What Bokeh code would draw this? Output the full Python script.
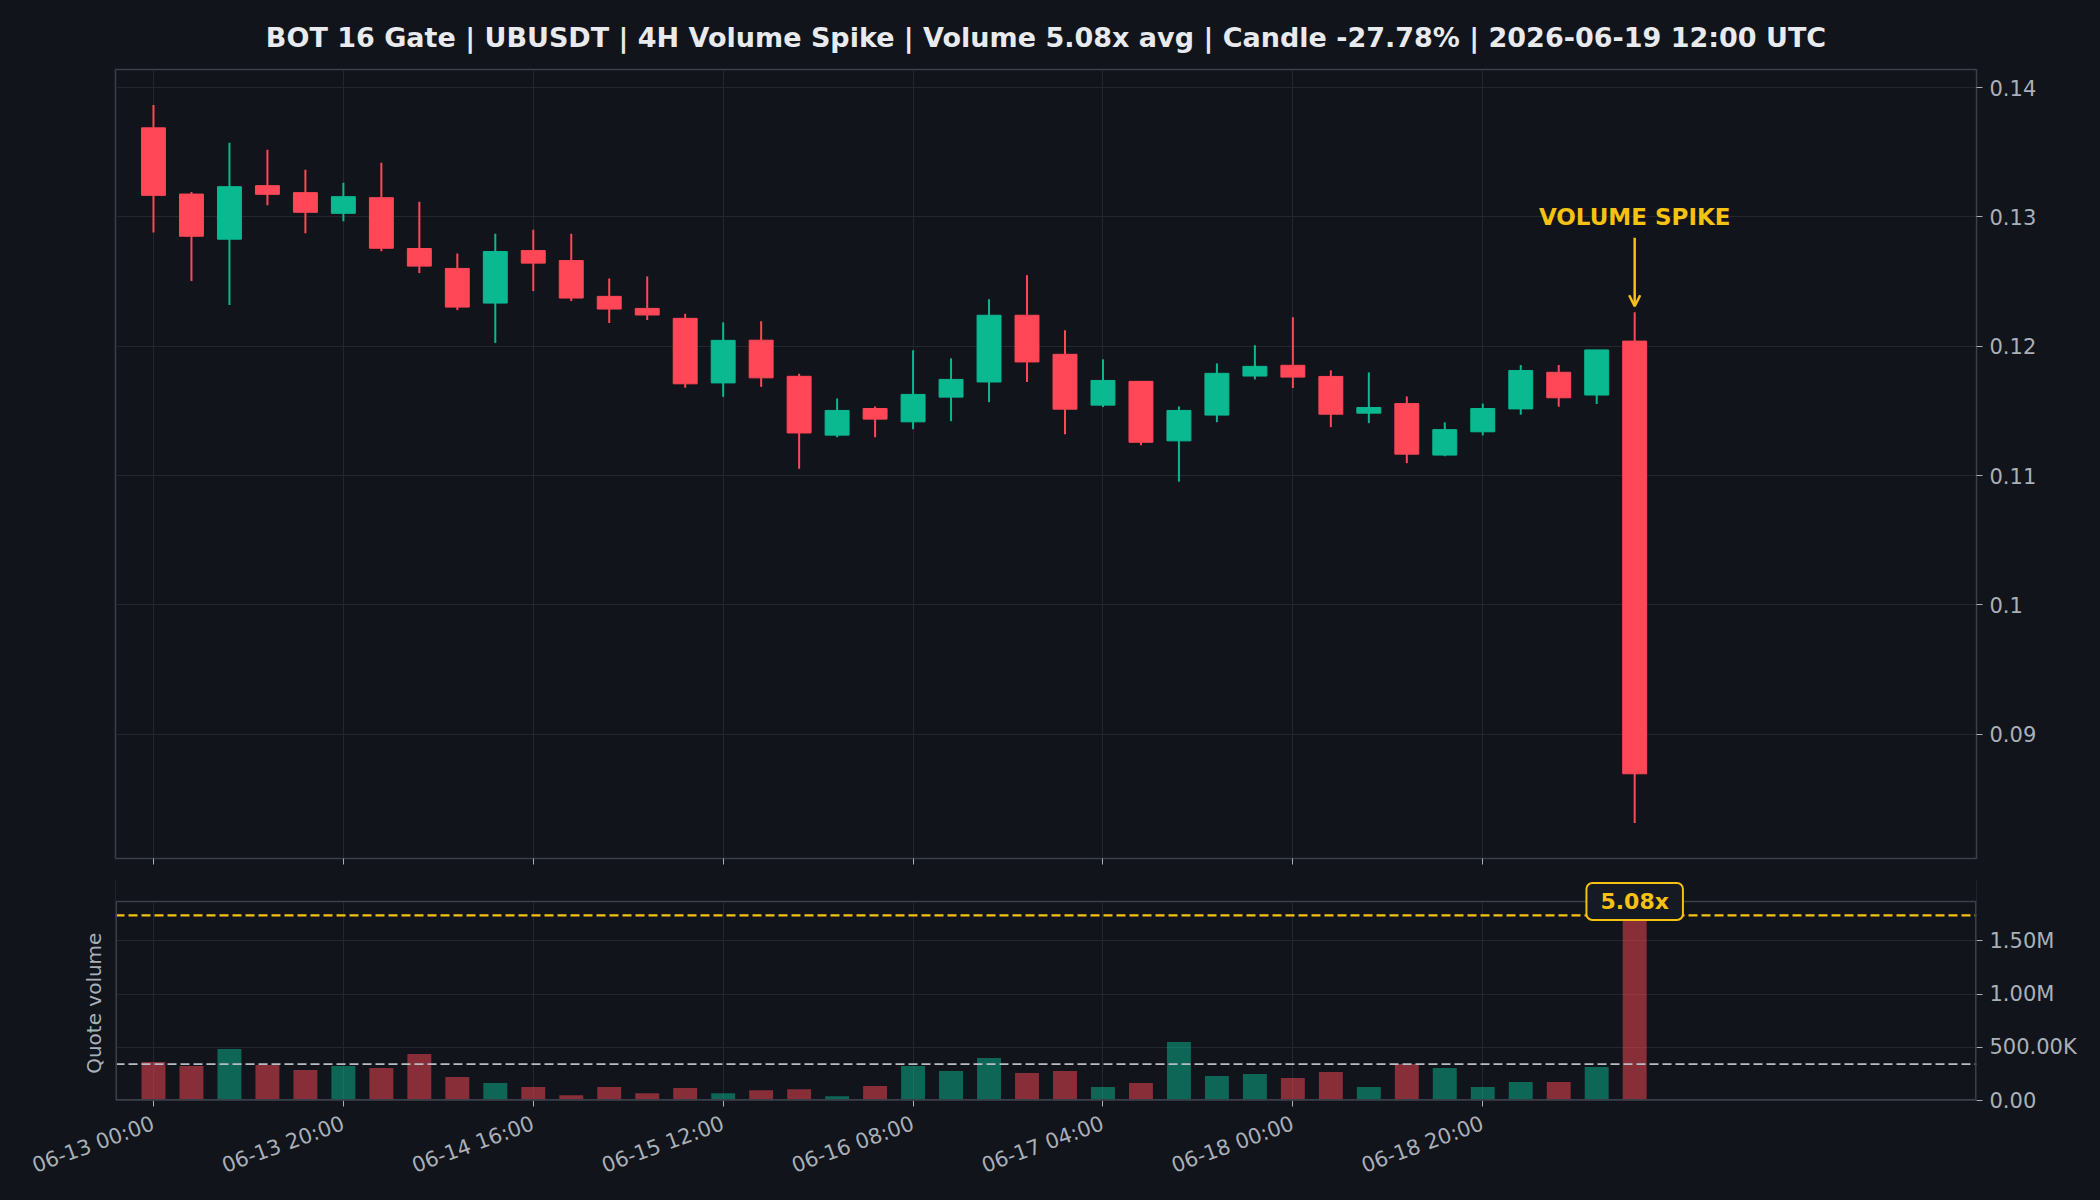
import math
import pandas as pd
from bokeh.plotting import figure
from bokeh.layouts import column
from bokeh.models import (ColumnDataSource, Range1d, FixedTicker, DatetimeTickFormatter,
                          CustomJSTickFormatter, LinearAxis, Span, Label, Arrow, OpenHead,
                          BoxAnnotation)
from bokeh.embed import file_html
from bokeh.resources import INLINE

# ---------------- data ----------------
times = pd.date_range("2026-06-13 00:00", periods=40, freq="4h")

opens = [0.13689, 0.13177, 0.12828, 0.13242, 0.13188, 0.13028, 0.13149, 0.12756, 0.12602, 0.12334,
         0.12740, 0.12663, 0.12386, 0.12293, 0.12216, 0.11717, 0.12047, 0.11768, 0.11313, 0.11519,
         0.11416, 0.11607, 0.11724, 0.12240, 0.11938, 0.11545, 0.11729, 0.11269, 0.11468, 0.11770,
         0.11853, 0.11767, 0.11483, 0.11557, 0.11159, 0.11339, 0.11516, 0.11799, 0.11623, 0.12040]
highs = [0.13866, 0.13193, 0.13573, 0.13519, 0.13365, 0.13265, 0.13419, 0.13118, 0.12717, 0.12871,
         0.12902, 0.12871, 0.12524, 0.12540, 0.12252, 0.12185, 0.12194, 0.11788, 0.11597, 0.11535,
         0.11969, 0.11907, 0.12364, 0.12550, 0.12124, 0.11899, 0.11729, 0.11535, 0.11868, 0.12008,
         0.12225, 0.11814, 0.11798, 0.11612, 0.11412, 0.11557, 0.11855, 0.11855, 0.11972, 0.12263]
lows = [0.12879, 0.12504, 0.12319, 0.13090, 0.12874, 0.12967, 0.12735, 0.12566, 0.12280, 0.12026,
        0.12427, 0.12350, 0.12180, 0.12203, 0.11679, 0.11609, 0.11686, 0.11053, 0.11297, 0.11297,
        0.11359, 0.11421, 0.11568, 0.11724, 0.11320, 0.11530, 0.11235, 0.10953, 0.11413, 0.11744,
        0.11677, 0.11375, 0.11406, 0.11097, 0.11150, 0.11311, 0.11471, 0.11533, 0.11554, 0.08315]
closes = [0.13167, 0.12851, 0.13234, 0.13175, 0.13036, 0.13157, 0.12758, 0.12620, 0.12303, 0.12733,
          0.12643, 0.12373, 0.12288, 0.12242, 0.11710, 0.12046, 0.11756, 0.11330, 0.11504, 0.11437,
          0.11628, 0.11744, 0.12240, 0.11879, 0.11514, 0.11736, 0.11258, 0.11504, 0.11791, 0.11845,
          0.11762, 0.11475, 0.11527, 0.11166, 0.11356, 0.11519, 0.11813, 0.11602, 0.11972, 0.08695]
volumes = [361600, 323900, 484300, 333300, 286200, 323900, 305000, 437100, 220100, 163500,
           125800, 50300, 125800, 69200, 116400, 69200, 97500, 106900, 40900, 135200,
           323900, 276700, 399400, 257900, 276700, 125800, 163500, 550300, 229600, 248400,
           210700, 267300, 125800, 342800, 305000, 125800, 173000, 173000, 314500, 1741000]

avg_volume = 342800
spike_volume = 1741000
spike_ratio_text = "5.08x"
volume_axis_top = 1871000

x_tick_times = ["2026-06-13 00:00", "2026-06-13 20:00", "2026-06-14 16:00", "2026-06-15 12:00",
                "2026-06-16 08:00", "2026-06-17 04:00", "2026-06-18 00:00", "2026-06-18 20:00"]
price_ticks = [0.09, 0.10, 0.11, 0.12, 0.13, 0.14]
volume_ticks = [0, 500000, 1000000, 1500000]

title_text = ("BOT 16 Gate | UBUSDT | 4H Volume Spike | Volume 5.08x avg | "
              "Candle -27.78% | 2026-06-19 12:00 UTC")
volume_label = "Quote volume"

# ---------------- style ----------------
BG = "#11141b"
GRID = "#222730"
OUTLINE = "#3a3f4a"
TXT = "#aab0b8"
UP = "#0bb991"
DOWN = "#ff4757"
YEL = "#f5c211"
FONT = "DejaVu Sans"
TICK_FONT = "21px"

# volume panel geometry: visible panel is 199 px tall; the frame is extended 21 px
# upwards (kept blank) so that the ratio badge can straddle the panel's top edge
VOL_PANEL_PX = 199
VOL_HEADROOM_PX = 21

step_ms = 4 * 3600 * 1000


def ms(ts):
    return pd.Timestamp(ts).timestamp() * 1000.0


colors = [UP if c >= o else DOWN for o, c in zip(opens, closes)]
src = ColumnDataSource(dict(
    t=[ms(t) for t in times],
    open=opens, high=highs, low=lows, close=closes,
    top=[max(o, c) for o, c in zip(opens, closes)],
    bottom=[min(o, c) for o, c in zip(opens, closes)],
    volume=volumes, color=colors,
))

t_first = ms(times[0])
x_start = t_first - step_ms
x_end = t_first + 48 * step_ms
x_range = Range1d(x_start, x_end)
x_ticker = FixedTicker(ticks=[ms(s) for s in x_tick_times])
fmt = "%m-%d %H:%M"
x_formatter = DatetimeTickFormatter(microseconds=fmt, milliseconds=fmt, seconds=fmt, minsec=fmt,
                                    minutes=fmt, hourmin=fmt, hours=fmt, days=fmt,
                                    months=fmt, years=fmt)


def style_axis(ax):
    ax.axis_line_color = None
    ax.major_tick_line_color = TXT
    ax.major_tick_out = 6
    ax.major_tick_in = 0
    ax.minor_tick_line_color = None
    ax.major_label_text_color = TXT
    ax.major_label_text_font = FONT
    ax.major_label_text_font_size = TICK_FONT


def base_fig(height, y_range, top, bottom, outline=OUTLINE):
    f = figure(width=2100, height=height, x_range=x_range, y_range=y_range,
               x_axis_type="datetime", y_axis_location="right",
               output_backend="svg", toolbar_location=None,
               min_border_left=115, min_border_right=124,
               min_border_top=top, min_border_bottom=bottom,
               background_fill_color=BG, border_fill_color=BG,
               outline_line_color=outline, outline_line_width=1.5)
    f.xgrid.grid_line_color = GRID
    f.ygrid.grid_line_color = GRID
    f.xaxis.ticker = x_ticker
    f.xgrid.ticker = x_ticker
    f.xaxis.formatter = x_formatter
    style_axis(f.xaxis[0])
    style_axis(f.yaxis[0])
    f.yaxis.major_label_standoff = 7
    return f


# ---------------- price panel ----------------
p = base_fig(878, Range1d(0.0804, 0.1414), 69, 20)
p.title.text = title_text
p.title.align = "center"
p.title.text_font = FONT
p.title.text_font_size = "27px"
p.title.text_font_style = "bold"
p.title.text_color = "#e8eaed"
p.title.standoff = 33
p.yaxis.ticker = FixedTicker(ticks=price_ticks)
p.ygrid.ticker = FixedTicker(ticks=price_ticks)
p.yaxis.formatter = CustomJSTickFormatter(code="return tick.toFixed(2).replace(/0$/, '');")
p.xaxis.major_label_text_font_size = "0px"
p.xaxis.major_label_standoff = 0

p.segment(x0="t", y0="low", x1="t", y1="high", line_color="color", line_width=2, source=src)
p.vbar(x="t", width=0.63 * step_ms, top="top", bottom="bottom",
       fill_color="color", line_color="color", line_width=1, source=src)

t_spike = ms(times[-1])
p.add_layout(Arrow(end=OpenHead(size=11, line_color=YEL, line_width=2.5),
                   x_start=t_spike, y_start=0.1284, x_end=t_spike, y_end=0.1231,
                   line_color=YEL, line_width=2.5))
p.add_layout(Label(x=t_spike, y=0.13, text="VOLUME SPIKE", text_align="center",
                   text_baseline="alphabetic", text_font=FONT, text_font_size="23px",
                   text_font_style="bold", text_color=YEL))

# ---------------- volume panel ----------------
vol_range_end = volume_axis_top * (VOL_PANEL_PX + VOL_HEADROOM_PX) / VOL_PANEL_PX
v = base_fig(322, Range1d(0, vol_range_end), 2, 100, outline=None)
v.yaxis.ticker = FixedTicker(ticks=volume_ticks)
v.ygrid.ticker = FixedTicker(ticks=volume_ticks)
v.yaxis.formatter = CustomJSTickFormatter(code="""
if (tick >= 1e6) { return (tick / 1e6).toFixed(2) + 'M'; }
if (tick >= 1e3) { return (tick / 1e3).toFixed(2) + 'K'; }
return tick.toFixed(2);
""")
v.xaxis.major_label_orientation = math.radians(20)
v.xaxis.major_label_standoff = 16

# trailing no-break spaces shift the rotated label down to the visible panel's centre
left_ax = LinearAxis(axis_label=volume_label + "\u00a0" * 4,
                     major_label_text_font_size="0px",
                     major_tick_line_color=None, minor_tick_line_color=None,
                     axis_line_color=None, major_tick_out=0, major_label_standoff=0,
                     axis_label_standoff=6, axis_label_text_color=TXT,
                     axis_label_text_font=FONT, axis_label_text_font_size="20px",
                     axis_label_text_font_style="normal")
v.add_layout(left_ax, "left")

v.vbar(x="t", width=0.63 * step_ms, top="volume", bottom=0,
       fill_color="color", fill_alpha=0.5, line_color=None, source=src)

v.add_layout(Span(location=avg_volume, dimension="width", line_color="#b8bcc4",
                  line_dash="9 4", line_width=1.8))
v.add_layout(Span(location=spike_volume, dimension="width", line_color=YEL,
                  line_dash="9 4", line_width=2.2))

# panel outline: side edges, then blank headroom, then bottom/top edges
for xe in (x_start, x_end):
    v.add_layout(Span(location=xe, dimension="height", line_color=OUTLINE, line_width=3))
v.add_layout(BoxAnnotation(bottom=volume_axis_top, fill_color=BG, fill_alpha=1.0,
                           line_color=None))
for ye in (0, volume_axis_top):
    v.add_layout(Span(location=ye, dimension="width", line_color=OUTLINE, line_width=1.5))
v.add_layout(Span(location=0, dimension="width", line_color=OUTLINE, line_width=3))

v.add_layout(Label(x=t_spike, y=volume_axis_top, text=spike_ratio_text,
                   text_align="center", text_baseline="middle", text_font=FONT,
                   text_font_size="22px", text_font_style="bold", text_color=YEL,
                   background_fill_color="#161a22", border_line_color=YEL,
                   border_line_width=2, border_radius=6, padding=(14, 6)))

layout = column(p, v, styles={"background-color": BG})
open("out.html", "w").write(file_html(layout, INLINE))
